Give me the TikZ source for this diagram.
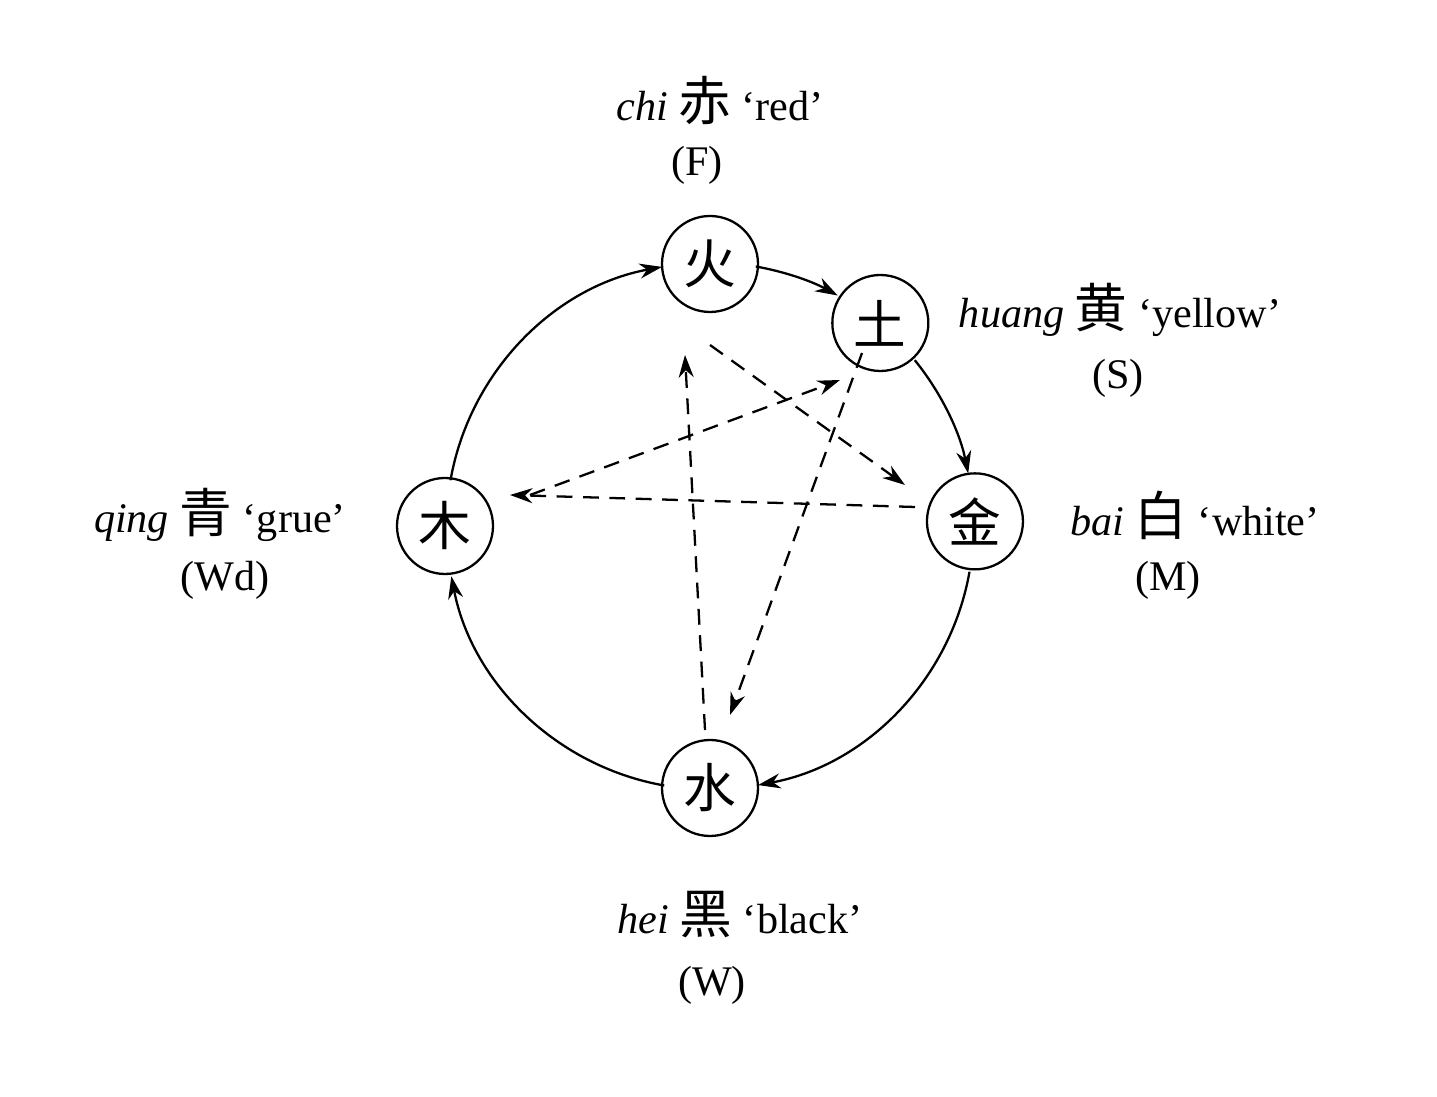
\documentclass[tikz,border=0pt]{standalone}
\usepackage{fontspec}
\setmainfont{Liberation Serif}
\newfontfamily\cjk{Noto Sans CJK SC}
\usetikzlibrary{arrows.meta,calc}
\newcommand{\bigcjk}[1]{{\cjk\fontsize{30}{30}\selectfont #1}}
\begin{document}
\begin{tikzpicture}[
  elem/.style={draw,circle,line width=1.3pt,minimum size=1.92cm,inner sep=0pt,font=\cjk\fontsize{30}{30}\selectfont},
  lab/.style={font=\fontsize{24}{28}\selectfont},
  tip/.style={-{Stealth[length=4.5mm,width=3mm]}},
  arcline/.style={tip,line width=1.3pt},
  dashln/.style={tip,line width=1.3pt,dash pattern=on 9pt off 6pt}]
\useasboundingbox (0,0) rectangle (28.74,21.94);
\coordinate (C) at (14.2,11.42);
\node[elem] (fire)  at ($(C)+(90:5.24)$) {火};
\node[elem] (earth) at ($(C)+(50:5.3)$) {土};
\node[elem] (metal) at ($(C)+(1:5.3)$) {金};
\node[elem] (water) at ($(C)+(-90:5.24)$) {水};
\node[elem] (wood)  at ($(C)+(180:5.3)$) {木};
% generating cycle
\draw[arcline] ($(C)+(170:5.27)$) arc[start angle=170,end angle=100.5,radius=5.27cm];
\draw[arcline] ($(C)+(80:5.27)$) arc[start angle=80,end angle=61,radius=5.27cm];
\draw[arcline] ($(C)+(39:5.27)$) arc[start angle=39,end angle=11.5,radius=5.27cm];
\draw[arcline] ($(C)+(-10:5.27)$) arc[start angle=-10,end angle=-79.5,radius=5.27cm];
\draw[arcline] ($(C)+(-100:5.27)$) arc[start angle=-100,end angle=-169,radius=5.27cm];
% overcoming cycle
\coordinate (f1) at (14.2,15.04); \coordinate (m1) at (18.1,12.24);
\coordinate (m2) at (18.3,11.80); \coordinate (w1) at (10.2,12.04);
\coordinate (w2) at (10.6,12.04); \coordinate (e1) at (16.8,14.34);
\coordinate (e2) at (17.24,14.88); \coordinate (a1) at (14.6,7.64);
\coordinate (a2) at (14.1,7.34); \coordinate (f2) at (13.7,14.84);
\draw[dashln] (f1) -- (m1);
\draw[dashln] (m2) -- (w1);
\draw[dashln] (w2) -- (e1);
\draw[dashln] (e2) -- (a1);
\draw[dashln] (a2) -- (f2);
% labels
\node[lab] (l1) at (14.4,19.94) {\textit{chi} \bigcjk{赤} ‘red’};
\node[lab] (l1b) at (13.94,18.64) {(F)};
\node[lab] (l2) at (22.4,15.74) {\textit{huang} \bigcjk{黄} ‘yellow’};
\node[lab] (l2b) at (22.36,14.38) {(S)};
\node[lab] (l3) at (23.9,11.64) {\textit{bai} \bigcjk{白} ‘white’};
\node[lab] (l3b) at (23.36,10.34) {(M)};
\node[lab] (l4) at (4.4,11.64) {\textit{qing} \bigcjk{青} ‘grue’};
\node[lab] (l4b) at (4.5,10.34) {(Wd)};
\node[lab] (l5) at (14.8,3.64) {\textit{hei} \bigcjk{黑} ‘black’};
\node[lab] (l5b) at (14.24,2.24) {(W)};
\end{tikzpicture}
\end{document}
